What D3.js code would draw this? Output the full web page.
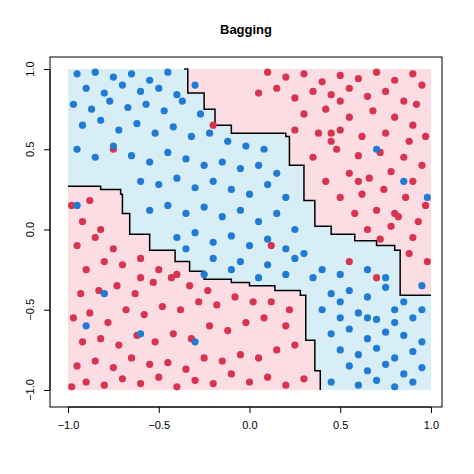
<!DOCTYPE html>
<html><head><meta charset="utf-8">
<script src="https://cdn.jsdelivr.net/npm/d3@7"></script>
<style>body{margin:0;background:#fff}</style></head>
<body><svg id="c" width="474" height="474"></svg>
<script>
// upper boundary (blue left / red right), top edge to right edge
var upperBoundary = [[-0.36,1.0],[-0.34,0.85],[-0.25,0.75],[-0.19,0.65],[-0.1,0.6],[0.05,0.6],[0.2,0.58],[0.22,0.4],[0.3,0.18],[0.36,0.02],[0.45,-0.03],[0.58,-0.07],[0.7,-0.1],[0.8,-0.13],[0.83,-0.41],[1.0,-0.41]];
// lower boundary (red below-left / blue above-right), left edge to bottom edge
var lowerBoundary = [[-1.0,0.27],[-0.9,0.27],[-0.82,0.25],[-0.71,0.22],[-0.7,0.1],[-0.66,-0.03],[-0.55,-0.13],[-0.41,-0.2],[-0.33,-0.26],[-0.25,-0.31],[-0.1,-0.33],[0.0,-0.35],[0.14,-0.38],[0.28,-0.41],[0.31,-0.69],[0.36,-0.88],[0.39,-1.0]];
var xTicks = [-1.0,-0.5,0.0,0.5,1.0];
var yTicks = [-1.0,-0.5,0.0,0.5,1.0];
var redX = [0.1,0.2,0.3,0.4,0.5,0.6,0.7,0.8,0.9,0.95,0.05,0.15,0.25,0.35,0.45,0.55,0.65,0.75,0.85,0.92,0.3,0.42,0.55,0.68,0.8,0.9,0.25,0.38,0.5,0.62,0.75,0.88,0.97,0.35,0.48,0.6,0.72,0.85,0.95,0.42,0.55,0.66,0.78,0.9,0.5,0.62,0.74,0.86,0.97,0.58,0.7,0.82,0.93,0.65,0.78,0.9,0.72,0.88,0.98,0.5,0.45,
 -0.98,-0.9,-0.8,-0.7,-0.6,-0.5,-0.4,-0.3,-0.2,-0.1,0.0,0.1,0.2,0.3,-0.95,-0.85,-0.75,-0.65,-0.55,-0.45,-0.35,-0.25,-0.15,-0.05,0.05,0.15,0.25,-0.92,-0.82,-0.72,-0.62,-0.52,-0.42,-0.32,-0.22,-0.12,-0.02,0.08,0.2,-0.97,-0.88,-0.78,-0.68,-0.58,-0.48,-0.38,-0.28,-0.18,-0.08,0.12,0.22,-0.93,-0.83,-0.73,-0.63,-0.53,-0.43,-0.33,-0.23,0.02,-0.9,-0.8,-0.7,-0.6,-0.5,-0.95,-0.85,-0.75,-0.92,-0.82,-0.98,-0.88,-0.6,-0.4,
 0.6,0.8,0.45,-0.2,-0.75,0.7,0.12,0.55];
var redY = [0.98,0.95,0.97,0.92,0.96,0.94,0.98,0.93,0.97,0.9,0.85,0.88,0.82,0.86,0.84,0.88,0.83,0.86,0.8,0.78,0.72,0.75,0.7,0.74,0.7,0.65,0.62,0.6,0.62,0.58,0.6,0.55,0.58,0.45,0.5,0.46,0.48,0.45,0.4,0.3,0.35,0.32,0.36,0.3,0.2,0.22,0.25,0.2,0.15,0.1,0.12,0.08,0.05,0.0,0.02,-0.05,-0.06,-0.15,-0.2,0.8,0.55,
 -0.98,-0.95,-0.97,-0.93,-0.96,-0.92,-0.98,-0.94,-0.96,-0.9,-0.95,-0.92,-0.97,-0.93,-0.85,-0.82,-0.86,-0.8,-0.84,-0.83,-0.87,-0.8,-0.82,-0.78,-0.8,-0.75,-0.72,-0.7,-0.68,-0.72,-0.66,-0.7,-0.65,-0.68,-0.6,-0.63,-0.58,-0.55,-0.6,-0.55,-0.52,-0.58,-0.5,-0.53,-0.48,-0.5,-0.45,-0.47,-0.42,-0.45,-0.5,-0.4,-0.38,-0.35,-0.4,-0.33,-0.3,-0.35,-0.38,-0.45,-0.25,-0.2,-0.22,-0.18,-0.25,-0.1,-0.05,-0.12,0.05,0.0,0.15,0.18,-0.3,-0.28,
 0.3,0.1,0.6,0.65,0.5,-0.3,-0.1,-0.2];
var blueX = [-0.95,-0.85,-0.75,-0.65,-0.55,-0.45,-0.9,-0.8,-0.7,-0.6,-0.5,-0.4,-0.3,-0.97,-0.87,-0.77,-0.67,-0.57,-0.47,-0.37,-0.27,-0.92,-0.82,-0.72,-0.62,-0.52,-0.42,-0.32,-0.22,-0.12,-0.02,0.08,-0.95,-0.85,-0.75,-0.65,-0.55,-0.45,-0.35,-0.25,-0.15,-0.05,0.05,0.15,-0.6,-0.5,-0.4,-0.3,-0.2,-0.1,0.0,0.1,0.2,-0.55,-0.45,-0.35,-0.25,-0.15,-0.05,0.05,0.15,0.25,-0.4,-0.3,-0.2,-0.1,0.0,0.1,0.2,0.3,-0.35,-0.2,-0.05,0.1,0.25,0.4,-0.25,-0.1,0.05,0.2,0.35,0.5,0.65,0.75,
 0.45,0.55,0.65,0.75,0.85,0.95,0.4,0.5,0.6,0.7,0.8,0.9,0.45,0.55,0.65,0.75,0.85,0.95,0.5,0.6,0.7,0.8,0.9,0.55,0.65,0.75,0.85,0.95,0.45,0.6,0.7,0.8,0.9,0.5,0.65,0.8,0.95,
 -0.8,-0.9,-0.6,0.7,0.85,-0.3,-0.95,0.98];
var blueY = [0.97,0.98,0.95,0.97,0.93,0.98,0.88,0.85,0.9,0.86,0.88,0.84,0.9,0.78,0.75,0.8,0.76,0.78,0.74,0.8,0.72,0.65,0.68,0.62,0.66,0.6,0.64,0.58,0.6,0.55,0.52,0.5,0.5,0.45,0.52,0.46,0.42,0.48,0.44,0.4,0.42,0.38,0.4,0.35,0.3,0.28,0.32,0.26,0.3,0.25,0.22,0.28,0.2,0.12,0.15,0.1,0.14,0.08,0.12,0.05,0.1,0.0,-0.05,-0.02,-0.08,-0.04,-0.1,-0.06,-0.12,-0.15,-0.12,-0.18,-0.2,-0.22,-0.18,-0.25,-0.28,-0.25,-0.3,-0.28,-0.3,-0.28,-0.25,-0.3,
 -0.4,-0.38,-0.42,-0.36,-0.45,-0.5,-0.5,-0.55,-0.52,-0.56,-0.58,-0.55,-0.65,-0.62,-0.68,-0.64,-0.66,-0.7,-0.75,-0.78,-0.74,-0.8,-0.76,-0.85,-0.88,-0.84,-0.9,-0.86,-0.95,-0.97,-0.94,-0.98,-0.95,-0.45,-0.55,-0.5,-0.35,
 -0.4,-0.6,-0.65,0.5,0.3,-0.7,0.15,0.2];

var svg = d3.select("#c");
var x = d3.scaleLinear().domain([-1,1]).range([68,431]);
var y = d3.scaleLinear().domain([-1,1]).range([390,69]);
var line = d3.line().x(d=>x(d[0])).y(d=>y(d[1])).curve(d3.curveStepAfter);
var font = "Liberation Sans, Arial";

var pink = "#fbdde3", lblue = "#d7eef7";
svg.append("rect").attr("x",x(-1)).attr("y",y(1)).attr("width",x(1)-x(-1)).attr("height",y(-1)-y(1)).attr("fill",lblue);
svg.append("path").attr("d", line(upperBoundary)+" L"+x(1)+","+y(1)+"Z").attr("fill",pink);
svg.append("path").attr("d", line(lowerBoundary)+" L"+x(-1)+","+y(-1)+"Z").attr("fill",pink);
svg.append("path").attr("d",line(upperBoundary)).attr("fill","none").attr("stroke","#000").attr("stroke-width",1.5);
svg.append("path").attr("d",line(lowerBoundary)).attr("fill","none").attr("stroke","#000").attr("stroke-width",1.5);

svg.append("g").selectAll("circle").data(redX.map((v,i)=>[v,redY[i]])).join("circle")
  .attr("cx",d=>x(d[0])).attr("cy",d=>y(d[1])).attr("r",3.6).attr("fill","#d8334f");
svg.append("g").selectAll("circle").data(blueX.map((v,i)=>[v,blueY[i]])).join("circle")
  .attr("cx",d=>x(d[0])).attr("cy",d=>y(d[1])).attr("r",3.6).attr("fill","#1f7bd6");

svg.append("rect").attr("x",50).attr("y",57).attr("width",392).attr("height",350).attr("fill","none").attr("stroke","#000");
svg.append("g").attr("transform","translate(0,407)")
  .call(d3.axisBottom(x).tickValues(xTicks).tickFormat(d3.format(".1f")).tickSize(6).tickSizeOuter(0))
  .call(g=>g.select(".domain").attr("d","M"+x(-1)+",0H"+x(1)))
  .selectAll("text").attr("font-size",11).attr("font-family",font).attr("dy","1.2em");
var ya = svg.append("g").attr("transform","translate(50,0)")
  .call(d3.axisLeft(y).tickValues(yTicks).tickFormat("").tickSize(6).tickSizeOuter(0))
  .call(g=>g.select(".domain").attr("d","M0,"+y(1)+"V"+y(-1)));
svg.append("g").selectAll("text").data(yTicks).join("text")
  .attr("transform",d=>"translate(34,"+y(d)+") rotate(-90)").attr("text-anchor","middle")
  .attr("font-size",11).attr("font-family",font).text(d3.format(".1f"));
svg.append("text").attr("x",246).attr("y",34).attr("text-anchor","middle").attr("font-family",font)
  .attr("font-weight","bold").attr("font-size",13).text("Bagging");
</script></body></html>
